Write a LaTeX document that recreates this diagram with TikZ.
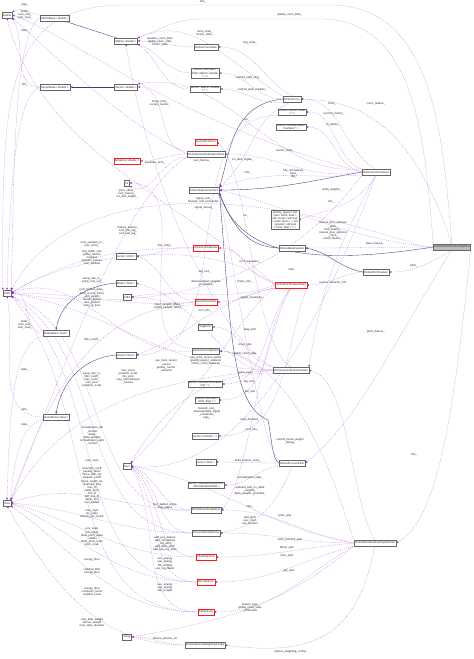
\documentclass[tikz,border=0pt]{standalone}
\usepackage{fontspec}
\setmainfont{Liberation Sans}
\usetikzlibrary{arrows.meta}
\definecolor{dorchid}{RGB}{154,50,205}
\definecolor{midblue}{RGB}{25,25,112}
\pgfdeclarelayer{back}
\pgfdeclarelayer{bg}
\pgfsetlayers{back,bg,main}
\begin{document}
\begin{tikzpicture}[x=1pt,y=1pt,
  every node/.style={font=\fontsize{2.8}{3.1}\selectfont, text=black!85},
  box/.style={draw=black!60, fill=white, line width=0.25pt, inner xsep=1pt, inner ysep=0.6pt, align=center, minimum height=5.5pt},
  rbox/.style={box, draw=red!90},
  gbox/.style={box, fill=black!25},
  dep/.style={dorchid!60, line width=0.3pt, dash pattern=on 1.1pt off 1pt, {Latex[length=2.2pt,width=1.8pt,color=dorchid]}-},
  inh/.style={midblue!85, line width=0.35pt, {Latex[open,length=2.5pt,width=2.2pt]}-},
  lbl/.style={align=center, inner sep=0pt}]
\useasboundingbox (0,0) rectangle (474,-659);
\begin{pgfonlayer}{back}
\fill[white] (0,0) rectangle (474,-659);
\end{pgfonlayer}
% ---------- column 0/1 ----------
\node[box] (dblL) at (7,-15) {double};
\node[box] (mbd) at (55,-18) {MatrixBase< double >};
\node[box] (md) at (126,-41) {Matrix< double >};
\node[box] (vbd) at (55,-87) {VectorBase< double >};
\node[box] (vd) at (126,-87) {Vector< double >};
\node[rbox] (spd) at (127,-161) {SpMatrix< double >};
\node[box] (intn) at (127,-183) {int};
\node[box] (vi32) at (126,-256) {vector< int32 >};
\node[box] (mf) at (126,-283) {Matrix< float >};
\node[box] (i32) at (7,-293) {int32};
\node[box] (i64) at (127,-297) {int64};
\node[box] (mbf) at (56,-333) {MatrixBase< float >};
\node[box] (vf) at (126,-355) {Vector< float >};
\node[box] (vbf) at (56,-417) {VectorBase< float >};
\node[box] (bool) at (127,-466) {bool};
\node[box] (flt) at (7,-503) {float};
\node[box] (str) at (127,-637) {string};
% ---------- column 2 ----------
\node[box] (ocs) at (206,-47) {OnlineCmvnState};
\node[box] (vpim) at (205,-73) {vector< std::pair<\\int32, Matrix< double\\> > >};
\node[box] (vmdp) at (205,-89) {vector< Matrix< double\\> * >};
\node[rbox] (ive) at (206,-142) {IvectorExtractor};
\node[box] (oies) at (206,-154) {OnlineIvectorEstimationStats};
\node[box] (ofi) at (204,-190) {OnlineFeatureInterface};
\node[rbox] (ares) at (206,-248) {ArbitraryResample};
\node[rbox] (lres) at (206,-302) {LinearResample};
\node[box] (dgmm) at (205,-327) {DiagGmm};
\node[box] (ocmo) at (206,-351) {OnlineCmvnOptions};
\node[box] (vopfi) at (205,-384) {vector< OnlinePitchFrame\\Info * >};
\node[box] (vpif) at (207,-400) {vector< std::pair<\\int32, float > >};
\node[box] (vnccf) at (205,-436) {vector< NccfInfo * >};
\node[box] (vflt) at (206,-462) {vector< float >};
\node[box] (vns) at (206,-485) {vector< OnlineProcessPitch\\::NormalizationStats >};
\node[box] (peo) at (206,-510) {PitchExtractionOptions};
\node[box] (ppo) at (206,-533) {ProcessPitchOptions};
\node[rbox] (fbo) at (206,-557) {FbankOptions};
\node[rbox] (mfo) at (206,-582) {MfccOptions};
\node[rbox] (plo) at (206,-612) {PlpOptions};
\node[box] (oswc) at (205,-645) {OnlineSilenceWeightingConfig};
% ---------- column 3 ----------
\node[box] (ocmvn) at (292,-99) {OnlineCmvn};
\node[box] (vvfp) at (292,-112) {vector< Vector< float\\> * >};
\node[box] (vofip) at (291,-127) {vector< OnlineFeature\\Interface * >};
\node[box] (pq) at (285,-220) {priority\_queue< std\\::pair< int32, float >,\\std::vector< std::pair\\< int32, float > >, std\\::greater< std::pair\\< int32, float > > >};
\node[box] (obf) at (292,-248) {OnlineBaseFeature};
\node[rbox] (opfi) at (291,-285) {OnlinePitchFeatureImpl};
\node[box] (oiei) at (291,-370) {OnlineIvectorExtractionInfo};
\node[box] (opp) at (292,-463) {OnlineProcessPitch};
% ---------- column 4/5 ----------
\node[box] (oivf) at (376,-172) {OnlineIvectorFeature};
\node[box] (opf) at (376,-272) {OnlinePitchFeature};
\node[box] (oinfo) at (375,-543) {OnlineNnet2FeaturePipelineInfo};
\node[gbox] (pipe) at (452,-247) {OnlineNnet2FeaturePipeline};
% ---------- labels ----------
\node[lbl] at (25,-5) {data\_};
\node[lbl] at (25,-15) {stride\_\\num\_cols\_\\num\_rows\_};
\node[lbl] at (25,-31) {data\_};
\node[lbl] at (25,-85) {dim\_};
\node[lbl] at (25,-325) {stride\_\\num\_cols\_\\num\_rows\_};
\node[lbl] at (25,-370) {data\_};
\node[lbl] at (25,-410) {dim\_};
\node[lbl] at (25,-425) {data\_};
\node[lbl] at (203,-2) {dim\_};
\node[lbl] at (290,-15) {global\_cmvn\_stats\_};
\node[lbl] at (160,-42) {speaker\_cmvn\_stats\\global\_cmvn\_stats\\frozen\_state};
\node[lbl] at (205,-33) {temp\_stats\_\\frozen\_state\_};
\node[lbl] at (250,-43) {orig\_state\_};
\node[lbl] at (248,-78) {cached\_stats\_ring\_};
\node[lbl] at (252,-90) {cached\_stats\_modulo\_};
\node[lbl] at (160,-103) {linear\_term\_\\current\_ivector\_};
\node[lbl] at (247,-120) {src\_};
\node[lbl] at (155,-163) {quadratic\_term\_};
\node[lbl] at (285,-151) {ivector\_stats\_};
\node[lbl] at (332,-104) {cmvn\_};
\node[lbl] at (376,-104) {cmvn\_feature\_};
\node[lbl] at (334,-114) {ivectors\_history\_};
\node[lbl] at (333,-125) {to\_delete\_};
\node[lbl] at (127,-194) {prior\_offset\_\\num\_frames\_\\tot\_ubm\_loglike\_};
\node[lbl] at (202,-161) {num\_frames\_};
\node[lbl] at (243,-160) {tot\_ubm\_loglike\_};
\node[lbl] at (294,-174) {lda\_normalized\_\\base\_\\lda\_};
\node[lbl] at (248,-173) {info\_};
\node[lbl] at (204,-200) {signal\_sum\_\\forward\_cost\_remainder\_};
\node[lbl] at (204,-208) {signal\_sumsq\_};
\node[lbl] at (332,-190) {delta\_weights\_};
\node[lbl] at (331,-202) {info\_};
\node[lbl] at (333,-231) {feature\_plus\_optional\\\_pitch\_\\final\_feature\_\\feature\_plus\_optional\\\_cmvn\_\\nnet3\_feature\_};
\node[lbl] at (246,-216) {src\_};
\node[lbl] at (375,-244) {base\_feature\_};
\node[lbl] at (414,-266) {pitch\_};
\node[lbl] at (333,-283) {ivector\_extractor\_info};
\node[lbl] at (128,-231) {frames\_latency\_\\nccf\_first\_lag\_\\nccf\_last\_lag\_};
\node[lbl] at (92,-244) {num\_samples\_in\_\\num\_zeros\_};
\node[lbl] at (92,-258) {ring\_buffer\_size\\global\_frames\\modulus\\speaker\_frames\\cmn\_window};
\node[lbl] at (165,-246) {first\_index\_};
\node[lbl] at (92,-280) {samp\_rate\_in\_\\samp\_rate\_out\_};
\node[lbl] at (92,-298) {num\_frames\_stats\_\\most\_recent\_frame\\\_with\_weight\_\\ivector\_period\\num\_gselect\\num\_cg\_iters};
\node[lbl] at (205,-272) {lag\_nccf\_};
\node[lbl] at (292,-270) {impl\_};
\node[lbl] at (206,-283) {downsampled\_samples\\\_processed\_};
\node[lbl] at (245,-282) {frame\_info\_};
\node[lbl] at (168,-306) {input\_sample\_offset\_\\output\_sample\_offset\_};
\node[lbl] at (250,-262) {nccf\_resampler\_};
\node[lbl] at (252,-298) {signal\_resampler\_};
\node[lbl] at (205,-311) {nccf\_info\_};
\node[lbl] at (92,-340) {filter\_cutoff\_};
\node[lbl] at (128,-377) {max\_count\\posterior\_scale\\min\_post\\max\_remembered\\\_frames};
\node[lbl] at (92,-380) {samp\_rate\_in\_\\filter\_cutoff\_\\max\_count\_\\min\_post\\posterior\_scale};
\node[lbl] at (245,-345) {cmvn\_opts};
\node[lbl] at (245,-354) {global\_cmvn\_stats};
\node[lbl] at (206,-361) {use\_most\_recent\_ivector\\greedy\_ivector\_extractor\\online\_cmvn\_iextractor};
\node[lbl] at (250,-330) {diag\_ubm};
\node[lbl] at (245,-373) {splice\_opts};
\node[lbl] at (250,-382) {lag\_nccf\_};
\node[lbl] at (250,-392) {lda\_mat};
\node[lbl] at (166,-366) {use\_most\_recent\\\_ivector\\greedy\_ivector\\\_extractor};
\node[lbl] at (207,-413) {forward\_cost\_\\downsampled\_signal\\\_remainder\_\\lags\_};
\node[lbl] at (250,-420) {input\_finished\_};
\node[lbl] at (252,-430) {nccf\_info\_};
\node[lbl] at (290,-441) {current\_frame\_weight\\\_debug\_};
\node[lbl] at (92,-436) {normalization\_left\\\_context\\delay\\delta\_window\\normalization\_right\\\_context};
\node[lbl] at (92,-461) {num\_ceps};
\node[lbl] at (248,-461) {delta\_feature\_noise\_};
\node[lbl] at (250,-478) {normalization\_stats\_};
\node[lbl] at (250,-491) {updated\_with\_no\_delta\\\_weights\_\\delta\_weights\_provided\_};
\node[lbl] at (92,-486) {preemph\_coeff\\penalty\_factor\\frame\_shift\_ms\\lowpass\_cutoff\\frame\_length\_ms\\resample\_freq\\max\_f0\\delta\_pitch\\min\_f0\\soft\_min\_f0\\samp\_freq\\nccf\_ballast};
\node[lbl] at (165,-506) {nccf\_ballast\_online\\snip\_edges};
\node[lbl] at (92,-514) {num\_ceps\\lpc\_order\\frames\_per\_chunk};
\node[lbl] at (250,-507) {opts\_};
\node[lbl] at (250,-521) {add\_pitch\\use\_cmvn\\use\_ivectors};
\node[lbl] at (285,-516) {pitch\_opts};
\node[lbl] at (92,-537) {pov\_scale\\pov\_offset\\delta\_pitch\_noise\\\_stddev\\delta\_pitch\_scale\\pitch\_scale};
\node[lbl] at (165,-544) {add\_pov\_feature\\add\_normalized\\\_log\_pitch\\add\_delta\_pitch\\add\_raw\_log\_pitch};
\node[lbl] at (290,-540) {pitch\_process\_opts};
\node[lbl] at (287,-548) {fbank\_opts};
\node[lbl] at (92,-560) {energy\_floor};
\node[lbl] at (165,-564) {use\_energy\\raw\_energy\\htk\_compat\\use\_log\_fbank};
\node[lbl] at (287,-556) {mfcc\_opts};
\node[lbl] at (92,-571) {cepstral\_lifter\\energy\_floor};
\node[lbl] at (165,-588) {use\_energy\\raw\_energy\\htk\_compat};
\node[lbl] at (289,-571) {plp\_opts};
\node[lbl] at (92,-592) {energy\_floor\\compress\_factor\\cepstral\_scale};
\node[lbl] at (250,-608) {feature\_type\\global\_cmvn\_stats\\\_rxfilename};
\node[lbl] at (92,-623) {new\_data\_weight\\silence\_weight\\max\_state\_duration};
\node[lbl] at (165,-639) {silence\_phones\_str};
\node[lbl] at (290,-652) {silence\_weighting\_config};
\node[lbl] at (376,-332) {pitch\_feature\_};
\node[lbl] at (414,-455) {info\_};
% ---------- edges ----------
\begin{pgfonlayer}{bg}
% inheritance
\draw[inh] (mbd) -- (md);
\draw[inh] (vbd) -- (vd);
\draw[inh] (mbf.north) to[out=80,in=185] (mf.west);
\draw[inh] (vbf.north) to[out=80,in=185] (vf.west);
\draw[inh] (ofi.north east) .. controls (231,-150) and (232,-104) .. (ocmvn.west);
\draw[inh] (ofi.south east) .. controls (234,-230) and (250,-247) .. (obf.west);
\draw[inh] (ofi.east) to[out=0,in=190] (oivf.west);
\draw[inh] (ofi.south east) .. controls (238,-250) and (300,-268) .. (pipe.west);
\draw[inh] (ofi.south east) .. controls (231,-330) and (231,-405) .. (268,-420) .. controls (272,-440) and (272,-458) .. (opp.west);
\draw[inh] (obf.east) to[out=-10,in=170] (opf.west);
% double (top-left)
\draw[dep] (dblL.north east) to[out=30,in=170] (mbd.north west);
\draw[dep] (dblL.south east) to[out=-60,in=180] (vbd.west);
\draw[dep] (dblL.south east) .. controls (60,-60) and (120,-120) .. (oies.west);
\draw[dep] (dblL.east) .. controls (80,-40) and (170,-120) .. (oivf.west);
\draw[dep] (dblL.south) .. controls (40,-150) and (180,-200) .. (opfi.west);
% int32
\draw[dep] (i32.north east) .. controls (14,-200) and (12,-30) .. (mbd.west);
\draw[dep] (i32.north) .. controls (10,-200) and (14,-95) .. (vbd.west);
\draw[dep] (i32.north west) .. controls (2,-100) and (2,-8) .. (120,-5) -- (330,-5) to[out=0,in=95] (pipe.north);
\draw[dep] (i32.east) to[out=10,in=180] (mbf.west);
\draw[dep] (i32.south) to[out=-80,in=180] (vbf.west);
\draw[dep] (i32.east) to[out=20,in=185] (ocmo.west);
\draw[dep] (i32.east) to[out=30,in=180] (ares.west);
\draw[dep] (i32.east) to[out=0,in=185] (lres.west);
\draw[dep] (i32.east) .. controls (60,-260) and (200,-230) .. (opfi.west);
\draw[dep] (i32.east) .. controls (60,-300) and (250,-330) .. (oivf.south west);
\draw[dep] (i32.south east) to[out=-30,in=180] (ppo.west);
\draw[dep] (i32.south east) to[out=-40,in=180] (mfo.west);
\draw[dep] (i32.south east) to[out=-50,in=180] (plo.west);
\draw[dep] (i32.south east) to[out=-20,in=185] (peo.west);
\draw[dep] (i32.east) to[out=-10,in=180] (oiei.west);
\draw[dep] (i32.north east) .. controls (60,-200) and (200,-170) .. (pipe.south west);
% int
\draw[dep] (intn.east) to[out=0,in=180] (ocmo.north west);
\draw[dep] (intn.south east) to[out=-30,in=180] (oies.south west);
% Matrix<double>
\draw[dep] (md.north east) to[out=20,in=180] (200,-19) -- (320,-19) to[out=0,in=95] (pipe.north west);
\draw[dep] (md.east) to[out=0,in=180] (ocs.west);
\draw[dep] (md.north east) to[out=25,in=150] (ocmvn.north west);
\draw[dep] (md.south east) to[out=-20,in=180] (vpim.west);
\draw[dep] (md.south east) to[out=-35,in=180] (vmdp.west);
\draw[dep] (md.south) .. controls (150,-200) and (230,-350) .. (oiei.north west);
% Vector<double>
\draw[dep] (vd.east) to[out=0,in=180] (oies.north west);
\draw[dep] (vd.north east) to[out=10,in=185] (oivf.north west);
\draw[dep] (spd.east) to[out=0,in=180] (oies.west);
% column 2 -> 3
\draw[dep] (ocs.east) to[out=0,in=150] (ocmvn.north);
\draw[dep] (vpim.east) to[out=0,in=180] (ocmvn.west);
\draw[dep] (vmdp.east) to[out=0,in=190] (ocmvn.south west);
\draw[dep] (ofi.north east) to[out=40,in=200] (ocmvn.south);
\draw[dep] (ocmvn.east) to[out=0,in=150] (oivf.north);
\draw[dep] (ocmvn.east) .. controls (380,-100) and (420,-150) .. (pipe.north);
\draw[dep] (vvfp.east) to[out=0,in=160] (oivf.north west);
\draw[dep] (vofip.east) to[out=0,in=170] (oivf.west);
\draw[dep] (oies.east) to[out=0,in=190] (oivf.west);
\draw[dep] (ive.east) .. controls (250,-170) and (250,-340) .. (oiei.north);
\draw[dep] (ofi.north east) to[out=20,in=185] (oivf.south west);
\draw[dep] (ofi.east) .. controls (300,-210) and (350,-240) .. (pipe.west);
\draw[dep] (ofi.south east) .. controls (240,-300) and (260,-440) .. (opp.north west);
\draw[dep] (pq.east) to[out=20,in=-120] (oivf.south);
\draw[dep] (obf.east) to[out=0,in=180] (pipe.west);
\draw[dep] (opf.east) to[out=0,in=-150] (pipe.south);
\draw[dep] (opfi.east) to[out=0,in=185] (opf.west);
\draw[dep] (oiei.north east) .. controls (320,-300) and (330,-260) .. (oivf.south);
\draw[dep] (oiei.east) .. controls (350,-380) and (350,-500) .. (oinfo.north);
\draw[dep] (opp.east) .. controls (360,-420) and (400,-330) .. (pipe.south);
\draw[dep] (oinfo.east) .. controls (440,-520) and (455,-400) .. (pipe.south east);
\draw[dep] (ares.east) to[out=0,in=180] (opfi.north west);
\draw[dep] (lres.east) to[out=0,in=190] (opfi.south west);
\draw[dep] (dgmm.east) to[out=0,in=170] (oiei.north west);
\draw[dep] (ocmo.east) to[out=0,in=180] (oiei.west);
\draw[dep] (ocmo.east) .. controls (300,-360) and (340,-500) .. (oinfo.north west);
\draw[dep] (vopfi.east) to[out=0,in=-130] (opfi.south);
\draw[dep] (vpif.east) to[out=0,in=-120] (opfi.south);
\draw[dep] (vnccf.east) to[out=0,in=-110] (opfi.south east);
\draw[dep] (vflt.east) to[out=0,in=180] (opp.west);
\draw[dep] (vns.east) to[out=0,in=190] (opp.south west);
\draw[dep] (peo.east) .. controls (250,-480) and (260,-330) .. (opfi.south);
\draw[dep] (peo.east) to[out=0,in=170] (oinfo.west);
\draw[dep] (ppo.east) to[out=10,in=-110] (opp.south);
\draw[dep] (ppo.east) to[out=0,in=180] (oinfo.west);
\draw[dep] (fbo.east) to[out=0,in=185] (oinfo.west);
\draw[dep] (mfo.east) to[out=0,in=195] (oinfo.south west);
\draw[dep] (plo.east) to[out=0,in=-150] (oinfo.south west);
\draw[dep] (oswc.east) .. controls (330,-660) and (360,-620) .. (oinfo.south);
\draw[dep] (str.east) to[out=10,in=-140] (oinfo.south west);
\draw[dep] (str.east) to[out=0,in=180] (oswc.west);
% Matrix<float>, Vector<float>, vector<int32>, int64
\draw[dep] (mf.east) .. controls (200,-300) and (230,-380) .. (oiei.west);
\draw[dep] (vf.east) to[out=20,in=190] (opfi.south west);
\draw[dep] (vf.east) to[out=0,in=180] (vvfp.south west);
\draw[dep] (vi32.east) to[out=0,in=170] (ares.west);
\draw[dep] (vi32.east) to[out=-20,in=170] (lres.west);
\draw[dep] (i64.east) to[out=0,in=190] (lres.west);
\draw[dep] (i64.east) to[out=10,in=200] (opfi.west);
% bool
\draw[dep] (bool.east) to[out=-10,in=170] (oinfo.west);
\draw[dep] (bool.east) .. controls (250,-480) and (330,-300) .. (oivf.south);
\draw[dep] (bool.east) to[out=-30,in=180] (ppo.west);
\draw[dep] (bool.east) to[out=-40,in=180] (fbo.west);
\draw[dep] (bool.east) to[out=-50,in=180] (mfo.west);
\draw[dep] (bool.east) to[out=-60,in=180] (plo.west);
\draw[dep] (bool.east) to[out=-20,in=180] (peo.west);
\draw[dep] (bool.north east) to[out=60,in=180] (oiei.south west);
\draw[dep] (bool.north east) .. controls (180,-420) and (250,-300) .. (opfi.south west);
% float
\draw[dep] (flt.north) .. controls (10,-400) and (14,-345) .. (mbf.south west);
\draw[dep] (flt.north east) .. controls (14,-460) and (20,-425) .. (vbf.south west);
\draw[dep] (flt.east) to[out=20,in=180] (peo.west);
\draw[dep] (flt.east) to[out=-5,in=180] (ppo.west);
\draw[dep] (flt.east) to[out=-15,in=180] (fbo.west);
\draw[dep] (flt.east) to[out=-25,in=180] (mfo.west);
\draw[dep] (flt.south east) to[out=-35,in=180] (plo.west);
\draw[dep] (flt.south) to[out=-60,in=180] (oswc.west);
\draw[dep] (flt.north east) to[out=70,in=180] (lres.south west);
\draw[dep] (flt.north east) to[out=60,in=185] (oiei.west);
\draw[dep] (flt.north east) .. controls (60,-380) and (120,-200) .. (oies.south west);
\end{pgfonlayer}
\end{tikzpicture}
\end{document}
